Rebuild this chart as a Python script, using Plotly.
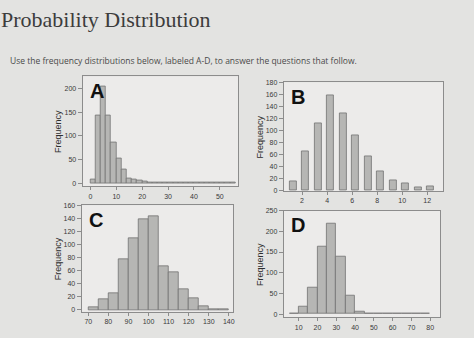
import plotly.graph_objects as go

W, H = 474, 338

# ---------------- data ----------------
a_bins = [0, 2, 4, 6, 8, 10, 12, 14, 16, 18, 20, 22, 24, 26, 28, 30, 32, 34, 36, 38, 40, 42, 44, 46, 48, 50, 52, 54]
a_freq = [9, 142, 203, 142, 85, 52, 30, 10, 9, 7, 3, 2, 1, 1, 1, 1, 1, 1, 2, 1, 1, 1, 1, 1, 1, 1, 1, 1]

b_vals = [1, 2, 3, 4, 5, 6, 7, 8, 9, 10, 11, 12]
b_freq = [15, 65, 111, 159, 128, 91, 57, 31, 16, 12, 6, 7]

c_bins = [70, 75, 80, 85, 90, 95, 100, 105, 110, 115, 120, 125, 130, 135]
c_freq = [4, 16, 25, 77, 109, 139, 143, 67, 57, 31, 18, 5, 1, 1]

d_bins = [5, 10, 15, 20, 25, 30, 35, 40, 45, 50, 55, 60, 65, 70, 75]
d_freq = [2, 19, 64, 162, 219, 139, 45, 6, 1, 0, 0, 0, 1, 1, 1]

a_xticks = [0, 10, 20, 30, 40, 50]
a_yticks = [0, 50, 100, 150, 200]
b_xticks = [2, 4, 6, 8, 10, 12]
b_yticks = [0, 20, 40, 60, 80, 100, 120, 140, 160, 180]
c_xticks = [70, 80, 90, 100, 110, 120, 130, 140]
c_yticks = [0, 20, 40, 60, 80, 100, 120, 140, 160]
d_xticks = [10, 20, 30, 40, 50, 60, 70, 80]
d_yticks = [0, 50, 100, 150, 200, 250]

title_text = "Probability Distribution"
subtitle_text = "Use the frequency distributions below, labeled A-D, to answer the questions that follow."
panel_labels = ["A", "B", "C", "D"]
y_title = "Frequency"

# ---------------- styling / layout ----------------
BAR_FILL = "#b6b6b4"
BAR_LINE = "#727272"
FRAME = "#8c8c8c"
TICKFONT = dict(family="Liberation Sans, Arial", size=7, color="#3a3a3a")

# panel boxes in pixels: (left, right, top, bottom), x range, y range
panels = [
    dict(box=(83, 239, 74, 186), xr=[-3, 57], yr=[-6, 225], xt=a_xticks, yt=a_yticks,
         x=a_bins, y=a_freq, w=2),
    dict(box=(285, 445, 80, 191), xr=[0.54, 13.27], yr=[-1, 180], xt=b_xticks, yt=b_yticks,
         x=b_vals, y=b_freq, w=0.55),
    dict(box=(82, 234, 205.5, 314.3), xr=[66.7, 142.1], yr=[-3, 160], xt=c_xticks, yt=c_yticks,
         x=c_bins, y=c_freq, w=5),
    dict(box=(285, 442, 211, 320), xr=[2.06, 85.3], yr=[-8, 250], xt=d_xticks, yt=d_yticks,
         x=d_bins, y=d_freq, w=5),
]

fig = go.Figure()
layout = dict(
    width=W, height=H,
    margin=dict(l=0, r=0, t=0, b=0),
    paper_bgcolor="#e3e3e1",
    plot_bgcolor="#ecebea",
    showlegend=False,
    bargap=0,
)

annotations = []
for i, p in enumerate(panels):
    n = "" if i == 0 else str(i + 1)
    l, r, t, b = p["box"]
    layout["xaxis" + n] = dict(
        domain=[l / W, r / W], range=p["xr"], anchor="y" + n,
        tickvals=p["xt"], ticks="outside", ticklen=3, tickcolor=FRAME,
        showline=True, mirror=True, linecolor=FRAME, linewidth=1,
        showgrid=False, zeroline=False, tickfont=TICKFONT,
    )
    layout["yaxis" + n] = dict(
        domain=[1 - b / H, 1 - t / H], range=p["yr"], anchor="x" + n,
        tickvals=p["yt"], ticks="outside", ticklen=4, tickcolor=FRAME,
        showline=True, mirror=True, linecolor=FRAME, linewidth=1,
        showgrid=False, zeroline=False, tickfont=TICKFONT,
    )
    fig.add_trace(go.Bar(
        x=p["x"], y=p["y"], width=p["w"], offset=0,
        marker=dict(color=BAR_FILL, line=dict(color=BAR_LINE, width=0.8)),
        xaxis="x" + n, yaxis="y" + n, hoverinfo="skip",
    ))
    # panel letter
    annotations.append(dict(
        text="<b>%s</b>" % panel_labels[i], xref="paper", yref="paper",
        x=(l + 5) / W, y=1 - (t + 15) / H, xanchor="left", yanchor="middle",
        showarrow=False, font=dict(family="Liberation Sans, Arial", size=20, color="#111111"),
    ))
    # y axis title
    annotations.append(dict(
        text=y_title, xref="paper", yref="paper",
        x=(l - 24) / W, y=1 - ((t + b) / 2) / H, xanchor="center", yanchor="middle",
        textangle=-90, showarrow=False,
        font=dict(family="Liberation Sans, Arial", size=9, color="#2e2e2e"),
    ))

annotations.append(dict(
    text=title_text, xref="paper", yref="paper", x=-0.002, y=1 - 16 / H,
    xanchor="left", yanchor="middle", showarrow=False,
    font=dict(family="Liberation Serif, DejaVu Serif, serif", size=22, color="#3c3c3c"),
))
annotations.append(dict(
    text=subtitle_text, xref="paper", yref="paper", x=8 / W, y=1 - 58 / H,
    xanchor="left", yanchor="middle", showarrow=False,
    font=dict(family="Open Sans, Noto Sans, sans-serif", size=8.5, color="#4a4a4a"),
))
layout["annotations"] = annotations
fig.update_layout(**layout)

fig.write_html("out.html")
